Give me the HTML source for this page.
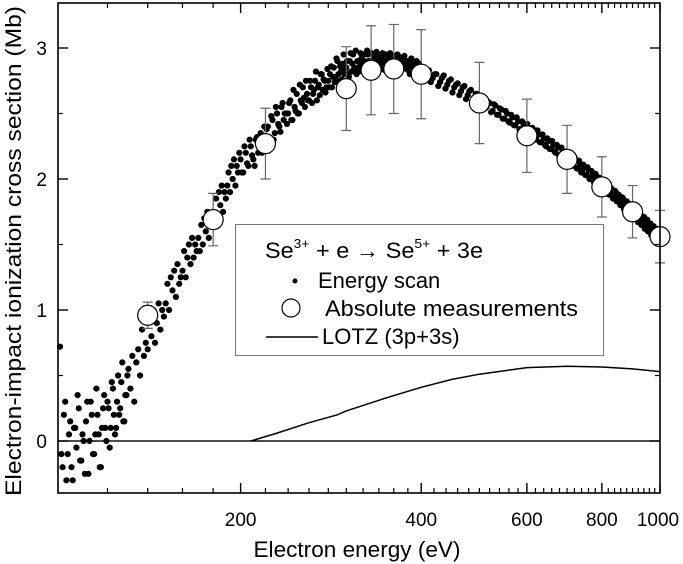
<!DOCTYPE html>
<html><head><meta charset="utf-8"><style>
html,body{margin:0;padding:0;background:#fff;}
svg{display:block;font-family:"Liberation Sans",Arial,sans-serif;}
</style></head><body>
<svg id="chart" width="683" height="564" viewBox="0 0 683 564" xmlns="http://www.w3.org/2000/svg">
<g id="grid"></g>
<g id="marks"></g>
<g id="axes"></g>
<g>
  <rect x="235.5" y="224.5" width="368" height="131" fill="#fff" stroke="#777" stroke-width="1"/>
  <text x="265" y="258" font-size="22" textLength="218" lengthAdjust="spacingAndGlyphs">Se<tspan font-size="13" dy="-10">3+</tspan><tspan dy="10"> + e → Se</tspan><tspan font-size="13" dy="-10">5+</tspan><tspan dy="10"> + 3e</tspan></text>
  <circle cx="295" cy="281" r="2.5" fill="#000"/>
  <text x="318" y="288" font-size="22">Energy scan</text>
  <circle cx="291" cy="308" r="9" fill="#fff" stroke="#000" stroke-width="1.2"/>
  <text x="325" y="316" font-size="22" textLength="253" lengthAdjust="spacingAndGlyphs">Absolute measurements</text>
  <line x1="266" y1="337" x2="318" y2="337" stroke="#000" stroke-width="1.5"/>
  <text x="322" y="344" font-size="22">LOTZ (3p+3s)</text>
</g>
<text x="357" y="557" font-size="22" text-anchor="middle" textLength="207" lengthAdjust="spacingAndGlyphs">Electron energy (eV)</text>
<text transform="translate(21,251) rotate(-90)" font-size="22" text-anchor="middle" textLength="490" lengthAdjust="spacingAndGlyphs">Electron-impact ionization cross section (Mb)</text>
</svg>
<script>
const scanE1=[100,101,102,103,104,105,106,107,108,109,110,111,112,113,114,115,116,117,118,119,120,121,122,123,124,125,126,127,128,129,130,131,132,133,134,135,136,137,138,139,140,141,142,143,144,145,146,147,148,149,150,151,152,153,154,155,156,157,158,159,160,161,162,163,164,165,166,167,168,169,170,171,172,173,174,175,176,177,178,179,180,181,182,183,184,185,186,187,188,189,190,191,192,193,194,195,196,197,198,199];
const scanS1=[0.72,-0.2,0.3,-0.1,0.15,-0.3,0.1,0.35,-0.15,0.05,-0.25,0.3,0.0,0.2,-0.1,0.4,0.05,-0.2,0.25,0.1,0.3,-0.05,0.45,0.2,0.1,0.5,0.25,0.6,0.15,0.35,0.55,0.4,0.65,0.3,0.6,0.7,0.5,0.85,0.65,0.75,0.7,0.95,0.8,1.0,0.75,0.9,1.05,0.85,1.0,0.95,1.05,1.2,1.0,1.25,1.15,1.3,1.1,1.35,1.2,1.25,1.3,1.45,1.25,1.4,1.5,1.35,1.55,1.4,1.5,1.45,1.55,1.45,1.65,1.5,1.7,1.6,1.75,1.55,1.7,1.65,1.75,1.65,1.85,1.7,1.9,1.8,1.95,1.75,1.9,1.85,1.95,2.05,1.9,2.1,2.0,2.15,1.95,2.1,2.05,2.2];
const scanE1b=[100.5,101.5,102.5,103.5,104.5,105.5,106.5,107.5,108.5,109.5,110.5,111.5,112.5,113.5,114.5,115.5,116.5,117.5,118.5,119.5,120.5,121.5,122.5,123.5,124.5,125.5,126.5,127.5,128.5,129.5];
const scanS1b=[-0.1,0.2,-0.3,0.05,-0.2,0.1,-0.05,0.25,-0.15,0.0,0.15,-0.25,0.3,-0.1,0.05,0.2,-0.2,0.1,0.35,0.0,0.25,0.1,0.4,0.05,0.3,0.2,0.45,0.15,0.35,0.5];
const scanE2=[200,202,204,206,208,210,212,214,216,218,220,222,224,226,228,230,232,234,236,238,240,242,244,246,248,250,252,254,256,258,260,262,264,266,268,270,272,274,276,278,280,282,284,286,288,290,292,294,296,298,300,302,304,306,308,310,312,314,316,318,320,322,324,326,328,330,332,334,336,338,340,342,344,346,348,350,352,354,356,358,360,362,364,366,368,370,372,374,376,378,380,382,384,386,388,390,392,394,396,398];
const scanS2=[2.15,2.05,2.2,2.1,2.25,2.15,2.3,2.2,2.35,2.25,2.3,2.4,2.25,2.45,2.35,2.5,2.4,2.55,2.45,2.5,2.5,2.6,2.45,2.55,2.65,2.5,2.6,2.7,2.55,2.65,2.6,2.7,2.65,2.75,2.6,2.72,2.8,2.68,2.75,2.7,2.75,2.8,2.7,2.85,2.78,2.9,2.75,2.82,2.88,2.8,2.85,2.8,2.9,2.82,2.95,2.85,2.8,2.9,2.86,2.92,2.85,2.9,2.88,2.95,2.82,2.9,2.86,2.93,2.88,2.84,2.9,2.86,2.92,2.88,2.83,2.9,2.87,2.93,2.85,2.89,2.88,2.84,2.9,2.86,2.91,2.83,2.88,2.85,2.9,2.84,2.86,2.82,2.88,2.84,2.8,2.87,2.83,2.85,2.81,2.84];
const scanE2b=[201,203,205,207,209,211,213,215,217,219,221,223,225,227,229,231,233,235,237,239,241,243,245,247,249,251,253,255,257,259,261,263,265,267,269,271,273,275,277,279,281,283,285,287,289,291,293,295,297,299,301,303,305,307,309,311,313,315,317,319,321,323,325,327,329,331,333,335,337,339,341,343,345,347,349,351,353,355,357,359,361,363,365,367,369,371,373,375,377,379,381,383,385,387,389,391,393,395,397,399];
const scanS2b=[2.05,2.25,2.12,2.3,2.18,2.1,2.32,2.28,2.2,2.4,2.38,2.25,2.48,2.3,2.55,2.42,2.36,2.58,2.5,2.42,2.58,2.45,2.68,2.52,2.5,2.72,2.58,2.62,2.75,2.6,2.75,2.58,2.68,2.82,2.7,2.64,2.8,2.76,2.66,2.84,2.7,2.86,2.78,2.74,2.92,2.8,2.86,2.76,2.95,2.84,2.9,2.78,2.96,2.88,2.84,2.98,2.9,2.82,2.96,2.88,2.95,2.84,2.98,2.9,2.86,2.96,2.92,2.82,2.97,2.9,2.94,2.84,2.96,2.9,2.95,2.86,2.92,2.96,2.88,2.94,2.92,2.86,2.95,2.88,2.93,2.85,2.91,2.94,2.87,2.9,2.9,2.8,2.92,2.86,2.89,2.82,2.9,2.85,2.88,2.8];
const scanE3=[400,406,412,418,424,430,436,442,448,454,460,466,472,478,484,490,496,502,508,514,520,526,532,538,544,550,556,562,568,574,580,586,592,598,604,610,616,622,628,634,640,646,652,658,664,670,676,682,688,694,700,706,712,718,724,730,736,742,748,754,760,766,772,778,784,790,796,802,808,814,820,826,832,838,844,850,856,862,868,874,880,886,892,898,904,910,916,922,928,934,940,946,952,958,964,970,976,982,988,994];
const scanS3=[2.82,2.78,2.83,2.77,2.8,2.74,2.79,2.72,2.76,2.7,2.73,2.67,2.71,2.64,2.68,2.62,2.65,2.58,2.62,2.55,2.58,2.52,2.56,2.49,2.53,2.46,2.5,2.43,2.47,2.41,2.44,2.38,2.42,2.35,2.39,2.33,2.36,2.3,2.34,2.28,2.31,2.25,2.29,2.23,2.26,2.2,2.24,2.18,2.21,2.15,2.19,2.13,2.16,2.1,2.14,2.08,2.11,2.06,2.09,2.03,2.07,2.01,2.04,1.99,2.02,1.96,1.99,1.94,1.97,1.91,1.94,1.89,1.92,1.86,1.9,1.84,1.87,1.82,1.85,1.79,1.83,1.77,1.8,1.75,1.78,1.72,1.76,1.7,1.73,1.68,1.71,1.65,1.69,1.63,1.66,1.61,1.64,1.58,1.62,1.56];
const scanE3b=[403,409,415,421,427,433,439,445,451,457,463,469,475,481,487,493,499,505,511,517,523,529,535,541,547,553,559,565,571,577,583,589,595,601,607,613,619,625,631,637,643,649,655,661,667,673,679,685,691,697,703,709,715,721,727,733,739,745,751,757,763,769,775,781,787,793,799,805,811,817,823,829,835,841,847,853,859,865,871,877,883,889,895,901,907,913,919,925,931,937,943,949,955,961,967,973,979,985,991,997];
const scanS3b=[2.77,2.82,2.74,2.8,2.71,2.77,2.69,2.75,2.66,2.72,2.64,2.7,2.61,2.67,2.59,2.65,2.56,2.62,2.54,2.59,2.51,2.57,2.49,2.54,2.46,2.52,2.44,2.49,2.41,2.47,2.38,2.44,2.36,2.42,2.33,2.39,2.31,2.37,2.28,2.34,2.26,2.31,2.23,2.29,2.21,2.26,2.18,2.24,2.16,2.21,2.13,2.19,2.11,2.16,2.08,2.14,2.05,2.11,2.03,2.09,2.0,2.06,1.98,2.04,1.95,2.01,1.93,1.98,1.9,1.96,1.88,1.93,1.85,1.91,1.83,1.88,1.8,1.86,1.77,1.83,1.75,1.81,1.72,1.78,1.7,1.76,1.67,1.73,1.65,1.71,1.62,1.68,1.6,1.65,1.57,1.63,1.55,1.6,1.52,1.58];
const absE=[140,180,220,300,330,360,400,500,600,700,800,900,1000];
const absS=[0.96,1.69,2.27,2.69,2.83,2.84,2.80,2.58,2.33,2.15,1.94,1.75,1.56];
const absErr=[0.1,0.2,0.27,0.32,0.34,0.34,0.34,0.31,0.28,0.26,0.23,0.2,0.2];
const lotzE=[208,230,260,290,300,350,400,450,500,600,700,800,900,1000];
const lotzS=[0,0.06,0.14,0.2,0.23,0.33,0.41,0.47,0.51,0.56,0.57,0.565,0.55,0.53];
const xMajor=[200,400,600,800,1000];
const xMinor=[120,140,160,180,220,240,260,280,300,320,340,360,380,420,440,460,480,500,520,540,560,580,620,640,660,680,700,720,740,760,780,820,840,860,880,900,920,940,960,980];
const yMajor=[0,1,2,3];
const yMinor=[0.5,1.5,2.5];

const NS='http://www.w3.org/2000/svg';
const L=58,R=660,T=3,B=493;
function x(E){return 60+600*Math.log10(E/100);}
function y(v){return 441-131*v;}
function mk(parent,tag,attrs){const e=document.createElementNS(NS,tag);for(const k in attrs)e.setAttribute(k,attrs[k]);parent.appendChild(e);return e;}
const marks=document.getElementById('marks');
const axes=document.getElementById('axes');
const grid=document.getElementById('grid');

const zl=mk(grid,'rect',{x:L,y:y(0)-0.7,width:R-L,height:1.4,fill:'#000'});



function dots(E,S,name){
  const g=mk(marks,'g',{});
  
  
  for(let i=0;i<E.length;i++){
    const c=mk(g,'circle',{cx:x(E[i]).toFixed(1),cy:y(S[i]).toFixed(1),r:3.1,fill:'#000'});
    
    
  }
}
dots(scanE1,scanS1,'energy-scan-low');
dots(scanE1b,scanS1b,'energy-scan-low-extra');
dots(scanE2,scanS2,'energy-scan-mid');
dots(scanE2b,scanS2b,'energy-scan-mid-extra');
dots(scanE3,scanS3,'energy-scan-high');
dots(scanE3b,scanS3b,'energy-scan-high-extra');

let d='';
for(let i=0;i<lotzE.length;i++){d+=(i?'L':'M')+x(lotzE[i]).toFixed(1)+','+y(lotzS[i]).toFixed(1);}
const lp=mk(marks,'path',{d:d,fill:'none',stroke:'#000','stroke-width':1.5});



const ag=mk(marks,'g',{});


for(let i=0;i<absE.length;i++){
  const cx=x(absE[i]),t=y(absS[i]+absErr[i]),b=y(absS[i]-absErr[i]);
  const eb=mk(ag,'path',{d:'M'+cx+','+t+'L'+cx+','+b+'M'+(cx-5)+','+t+'L'+(cx+5)+','+t+'M'+(cx-5)+','+b+'L'+(cx+5)+','+b,stroke:'#666','stroke-width':1.2,fill:'none'});
  
  
}
for(let i=0;i<absE.length;i++){
  const c=mk(ag,'circle',{cx:x(absE[i]),cy:y(absS[i]),r:10,fill:'#fff',stroke:'#000','stroke-width':1.2});
  
  
}

const fr=mk(axes,'rect',{x:L,y:T,width:R-L,height:B-T,fill:'none',stroke:'#000','stroke-width':1.6});


function tick(rx,ry,w,h,name){
  const t=mk(axes,'rect',{x:rx,y:ry,width:w,height:h,fill:'#000'});
  
  
}
xMajor.forEach(v=>{
  const px=x(v);
  tick(px-0.7,B-10,1.4,10,'x-major-tick');
  tick(px-0.7,T,1.4,10,'x-major-tick-top');
  const lb=mk(axes,'text',{x:v===1000?px-2:px,y:526,'font-size':19,'text-anchor':'middle'});
  lb.textContent=v;
  
  
});
xMinor.forEach(v=>{
  const px=x(v);
  tick(px-0.6,B-5,1.2,5,'x-minor-tick');
  tick(px-0.6,T,1.2,5,'x-minor-tick-top');
});
yMajor.forEach(v=>{
  const py=y(v);
  tick(L,py-0.7,10,1.4,'y-major-tick');
  tick(R-10,py-0.7,10,1.4,'y-major-tick-right');
  const lb=mk(axes,'text',{x:47,y:py+7,'font-size':19,'text-anchor':'end'});
  lb.textContent=v;
  
  
});
yMinor.forEach(v=>{
  const py=y(v);
  tick(L,py-0.6,5,1.2,'y-minor-tick');
  tick(R-5,py-0.6,5,1.2,'y-minor-tick-right');
});
</script>
</body></html>
